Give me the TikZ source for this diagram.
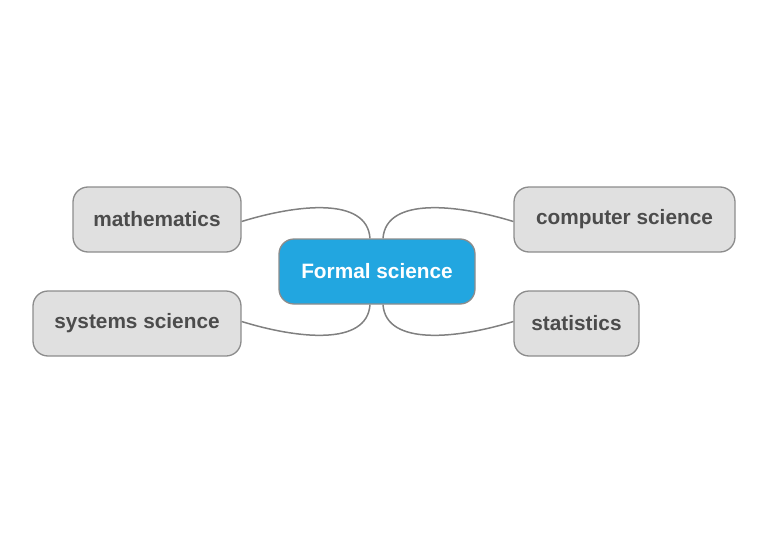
\documentclass[tikz,border=0pt]{standalone}
\usepackage{fontspec}
\setmainfont{Liberation Sans}
\begin{document}
\begin{tikzpicture}[x=1pt,y=-1pt,
  topic/.style={draw=black!45,line width=1.3pt,rounded corners=15pt,fill=black!12,
    text=black!70,font=\bfseries\fontsize{20.8}{22}\selectfont,minimum height=65pt,inner sep=0pt},
  central/.style={topic,text=white},
  link/.style={draw=black!50,line width=1.5pt}]
\useasboundingbox (0,0) rectangle (768,543);
\definecolor{cblue}{HTML}{22A6E0}
\node[central,fill=cblue,minimum width=196pt] (c) at (377,271.5) {Formal science};
\node[topic,minimum width=168pt] (m) at (157,219.5) {mathematics};
\node[topic,minimum width=208pt] (s) at (137,323.5) {systems science};
\node[topic,minimum width=221pt] (cs) at (624.5,219.5) {computer science};
\node[topic,minimum width=125pt] (st) at (576.5,323.5) {statistics};
\coordinate (ctl) at ([xshift=-7pt]c.north);
\coordinate (ctr) at ([xshift=6pt]c.north);
\coordinate (cbl) at ([xshift=-7pt]c.south);
\coordinate (cbr) at ([xshift=6pt]c.south);
\draw[link] ([yshift=-2pt]m.east) .. controls +(55,-17) and +(-3,-42) .. (ctl);
\draw[link] ([yshift=-2pt]cs.west) .. controls +(-55,-17) and +(3,-42) .. (ctr);
\draw[link] ([yshift=2pt]s.east) .. controls +(55,17) and +(-3,42) .. (cbl);
\draw[link] ([yshift=2pt]st.west) .. controls +(-55,17) and +(3,42) .. (cbr);
\end{tikzpicture}
\end{document}
